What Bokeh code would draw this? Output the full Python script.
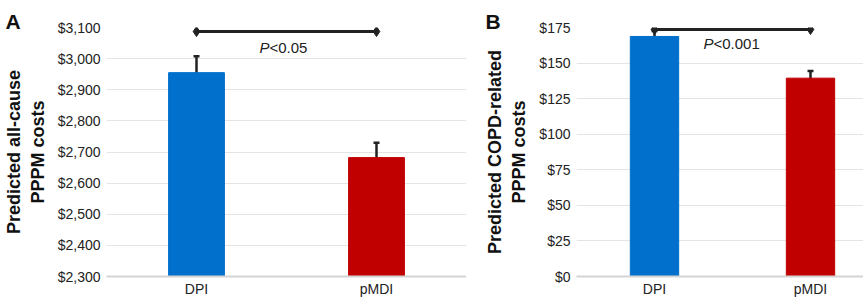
from bokeh.plotting import figure
from bokeh.layouts import row
from bokeh.models import (Range1d, FixedTicker, NumeralTickFormatter, ColumnDataSource,
                          Whisker, TeeHead, Label, Title)
from bokeh.embed import file_html
from bokeh.resources import INLINE

categories = ["DPI", "pMDI"]
colors = ["#0070CC", "#C00000"]

# Panel A: all-cause costs
a_values = [2955, 2682]
a_upper = [3008, 2730]
a_lower = [2908, 2589]
a_ticks = [2300, 2400, 2500, 2600, 2700, 2800, 2900, 3000, 3100]
a_bracket = 3087
a_p = "<0.05"
a_ylabel = "Predicted all-cause\nPPPM costs"

# Panel B: COPD-related costs
b_values = [168.7, 139.4]
b_upper = [172.5, 144.5]
b_lower = [165.5, 133.0]
b_ticks = [0, 25, 50, 75, 100, 125, 150, 175]
b_bracket = 173.6
b_p = "<0.001"
b_ylabel = "Predicted COPD-related\nPPPM costs"

FONT = "Liberation Sans"


def panel(width, left_border, xend, ticks, values, upper, lower, bracket, ptext,
          ylabel, letter, letter_offset, p_x, p_y):
    xs = [i + 1 for i in range(len(categories))]
    ymin, ymax = ticks[0], ticks[-1]
    p = figure(width=width, height=304, output_backend="svg", toolbar_location=None,
               x_range=Range1d(0.5, xend), y_range=Range1d(ymin, ymax),
               min_border_left=left_border, min_border_right=0,
               min_border_top=27, min_border_bottom=28)
    p.outline_line_color = None
    p.background_fill_color = "white"
    p.border_fill_color = "white"

    src = ColumnDataSource(dict(x=xs, top=values, color=colors,
                                upper=upper, lower=lower))
    p.vbar(x="x", top="top", bottom=ymin, width=0.31, color="color", source=src)

    w = Whisker(base="x", upper="upper", lower="lower", source=src,
                line_color="#222222", line_width=2.5,
                upper_head=TeeHead(size=6, line_color="#222222", line_width=2.5),
                lower_head=TeeHead(size=6, line_color="#222222", line_width=2.5))
    p.add_layout(w)

    p.line(x=xs, y=[bracket] * len(xs), line_color="#222222", line_width=3)
    p.scatter(x=xs, y=[bracket] * len(xs), marker="diamond", size=10,
              color="#222222")

    p.add_layout(Label(x=p_x, y=p_y, text="P", text_font=FONT, text_font_size="15px",
                       text_font_style="italic", text_align="right",
                       text_baseline="middle", text_color="#222222"))
    p.add_layout(Label(x=p_x, y=p_y, text=ptext, text_font=FONT, text_font_size="15px",
                       text_align="left", text_baseline="middle",
                       text_color="#222222"))

    t = Title(text=letter, align="left", offset=letter_offset, standoff=-11,
              text_font=FONT, text_font_size="21px", text_font_style="bold",
              text_color="#111111")
    p.add_layout(t, "above")

    p.xaxis.ticker = FixedTicker(ticks=xs)
    p.xaxis.major_label_overrides = {x: c for x, c in zip(xs, categories)}
    p.xaxis.major_tick_line_color = None
    p.xaxis.major_tick_out = 0
    p.xaxis.major_tick_in = 0
    p.xaxis.minor_tick_line_color = None
    p.xaxis.axis_line_color = "#d4d4d4"
    p.xaxis.axis_line_width = 2
    p.xaxis.major_label_text_font = FONT
    p.xaxis.major_label_text_font_size = "14px"
    p.xaxis.major_label_text_color = "#222222"
    p.xaxis.major_label_standoff = 4

    p.yaxis.ticker = FixedTicker(ticks=ticks)
    p.yaxis.formatter = NumeralTickFormatter(format="$0,0")
    p.yaxis.axis_line_color = None
    p.yaxis.major_tick_line_color = None
    p.yaxis.major_tick_out = 0
    p.yaxis.major_tick_in = 0
    p.yaxis.minor_tick_line_color = None
    p.yaxis.major_label_text_font = FONT
    p.yaxis.major_label_text_font_size = "14px"
    p.yaxis.major_label_text_color = "#222222"
    p.yaxis.major_label_standoff = 6
    p.yaxis.axis_label = ylabel
    p.yaxis.axis_label_text_font = FONT
    p.yaxis.axis_label_text_font_size = "18px"
    p.yaxis.axis_label_text_font_style = "bold"
    p.yaxis.axis_label_text_color = "#111111"
    p.yaxis.axis_label_standoff = 7

    p.xgrid.grid_line_color = None
    p.ygrid.grid_line_color = "#e4e4e4"
    p.ygrid.grid_line_width = 1
    return p


pA = panel(466, 106, 2.5, a_ticks, a_values, a_upper, a_lower, a_bracket, a_p,
           a_ylabel, "A", -101, 1.405, 3036)
pB = panel(397, 110, 0.5 + (863 - 576) / 156, b_ticks, b_values, b_upper, b_lower,
           b_bracket, b_p, b_ylabel, "B", -91, 1.378, 163.8)

layout = row(pA, pB)
open("out.html", "w").write(file_html(layout, INLINE))
